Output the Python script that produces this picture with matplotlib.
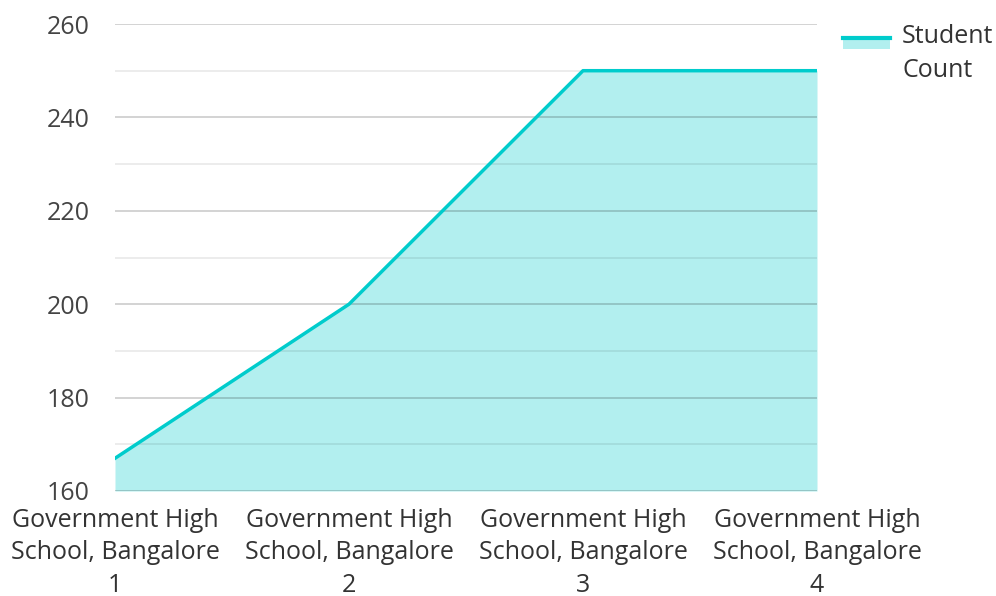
import matplotlib
matplotlib.use('Agg')
import matplotlib.pyplot as plt
from matplotlib.lines import Line2D
from matplotlib.patches import Rectangle

schools = ['Government High\nSchool, Bangalore\n1',
           'Government High\nSchool, Bangalore\n2',
           'Government High\nSchool, Bangalore\n3',
           'Government High\nSchool, Bangalore\n4']
student_count = [167, 200, 250, 250]
y_ticks = [160, 180, 200, 220, 240, 260]
legend_lines = ['Student', 'Count']

LINE_COLOR = '#00CCCC'
FILL_COLOR = '#B2EFEF'
FS = 18

plt.rcParams['font.family'] = ['Open Sans', 'DejaVu Sans']

fig = plt.figure(figsize=(9.96, 5.96), dpi=100)
ax = fig.add_axes([115 / 996, 105 / 596, 702 / 996, 467 / 596])

x = list(range(len(schools)))
ax.fill_between(x, student_count, 160, color=FILL_COLOR, linewidth=0, zorder=1)
ax.plot(x, student_count, color=LINE_COLOR, linewidth=2.5, zorder=3)

ax.set_xlim(0, len(schools) - 1)
ax.set_ylim(160, 260)
ax.set_yticks(y_ticks)
ax.set_yticks(range(170, 260, 20), minor=True)
# grid sits above the fill (axisbelow False -> zorder 2.5)
ax.set_axisbelow(False)
ax.grid(axis='y', which='major', color='#000000', alpha=0.2, linewidth=1.2)
ax.grid(axis='y', which='minor', color='#000000', alpha=0.09, linewidth=1.2)

ax.set_xticks(x)
ax.set_xticklabels(schools, fontsize=FS, color='#333333', linespacing=1.4)
ax.tick_params(axis='y', labelsize=FS, labelcolor='#444444', length=0, pad=18)
ax.tick_params(axis='y', which='minor', length=0)
ax.tick_params(axis='x', length=0, pad=12)
for s in ax.spines.values():
    s.set_visible(False)

# legend, drawn by hand
fig.add_artist(Rectangle((843 / 996, 1 - 49 / 596), 47 / 996, 12 / 596,
                         transform=fig.transFigure, facecolor=FILL_COLOR,
                         edgecolor='none'))
fig.add_artist(Line2D([843 / 996, 890 / 996], [1 - 38 / 596, 1 - 38 / 596],
                      transform=fig.transFigure, color=LINE_COLOR, linewidth=3))
for i, word in enumerate(legend_lines):
    fig.text(902 / 996, 1 - (43 + 34 * i) / 596, word, fontsize=FS,
             color='#333333', va='baseline', ha='left')

fig.savefig('out.png', dpi=100)
